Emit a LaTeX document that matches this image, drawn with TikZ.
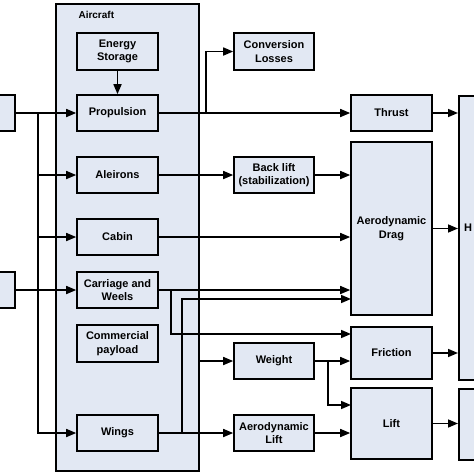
\documentclass[tikz,border=0pt]{standalone}
\usepackage{fontspec}
\setmainfont{Liberation Sans}
\usetikzlibrary{positioning,arrows.meta,calc}
\definecolor{boxfill}{RGB}{226,232,243}

\begin{document}
\begin{tikzpicture}[
	x=1pt, y=-1pt,
	font=\bfseries\fontsize{11}{13.5}\selectfont,
	>={Triangle[length=10pt,width=8pt]},
	blk/.style={draw, line width=1.6pt, fill=boxfill, align=center,
		inner sep=0pt, minimum width=81pt, minimum height=36pt},
	side/.style={blk, minimum width=80pt},
	flow/.style={->, line width=1.6pt},
	hd/.style={font=\bfseries\fontsize{10}{11}\selectfont},
]
\useasboundingbox (0,0) rectangle (474,474);
\clip (0,0) rectangle (474,474);

% ---- aircraft frame ----
\node[blk, anchor=north west, minimum width=143pt, minimum height=467pt] (aircraft) at (55,3) {};
\node[hd, anchor=west] (actitle) at (75,15) {Aircraft};

% ---- inputs (cut at the left edge) ----
\node[blk, minimum width=45pt] (in1) at (-7.5,113) {};
\node[blk, minimum width=45pt] (in2) at (-7.5,290) {};

% ---- aircraft parts ----
\node[blk, minimum height=37pt] (energy) at (117.5,51.5) {Energy\\Storage};
\node[blk] (prop)  at (117.5,113) {Propulsion};
\node[blk] (ail)   at (117.5,175) {Aleirons};
\node[blk] (cabin) at (117.5,237) {Cabin};
\node[blk] (carr)  at (117.5,290) {Carriage and\\Weels};
\node[blk, minimum height=37pt] (pay) at (117.5,343.5) {Commercial\\payload};
\node[blk] (wings) at (117.5,433) {Wings};

% ---- intermediate effects ----
\node[side, minimum height=37pt] (conv) at (274,51.5) {Conversion\\Losses};
\node[side] (back)   at (274,175) {Back lift\\(stabilization)};
\node[side] (weight) at (274,361) {Weight};
\node[side] (alift)  at (274,433) {Aerodynamic\\Lift};

% ---- forces ----
\node[blk] (thrust) at (391.5,113) {Thrust};
\node[blk, minimum height=173pt] (drag) at (391.5,228.5) {Aerodynamic\\Drag};
\node[blk, minimum height=52pt] (fric) at (391.5,353) {Friction};
\node[blk, minimum height=71pt] (lift) at (391.5,423.5) {Lift};

% ---- summary boxes (cut at the right edge) ----
\node[blk, anchor=north west, minimum width=60pt, minimum height=284pt] (sum1) at (458,95) {};
\node[anchor=west, inner sep=0pt] (sumtxt) at (464,228) {H};
\node[blk, anchor=north west, minimum width=60pt, minimum height=71pt] (sum2) at (458,388) {};

% ---- left feed ----
\coordinate (split) at (38,113);
\draw[flow] (in1) -- (prop);
\draw[flow] (split) |- (ail);
\draw[flow] (split) |- (cabin);
\draw[flow] (split) |- (wings);
\draw[flow] (in2) -- (carr);
\draw[flow] (energy) -- (prop);

% ---- propulsion ----
\coordinate (pj) at (206,113);
\draw[flow] (prop) -- (thrust);
\draw[flow] (pj) |- (conv);

% ---- to drag ----
\draw[flow] (ail) -- (back);
\draw[flow] (back) -- (back -| drag.west);
\draw[flow] (cabin) -- (cabin -| drag.west);
\draw[flow] (carr) -- (carr -| drag.west);
\coordinate (cj) at (171,290);
\coordinate (fin) at (351,334);
\draw[flow] (cj) |- (fin);
\coordinate (wj) at (182,433);
\coordinate (din) at (351,299);
\draw[flow] (wj) |- (din);

% ---- weight and lift ----
\draw[flow] (aircraft.east |- weight) -- (weight);
\draw[flow] (weight) -- (weight -| fric.west);
\coordinate (wtj) at (328,361);
\coordinate (lin) at (351,405);
\draw[flow] (wtj) |- (lin);
\draw[flow] (wings) -- (alift);
\draw[flow] (alift) -- (alift -| lift.west);

% ---- to summary ----
\draw[flow] (thrust) -- (thrust -| sum1.west);
\draw[flow] (drag) -- (drag -| sum1.west);
\draw[flow] (fric) -- (fric -| sum1.west);
\draw[flow] (lift) -- (lift -| sum2.west);

\end{tikzpicture}
\end{document}
